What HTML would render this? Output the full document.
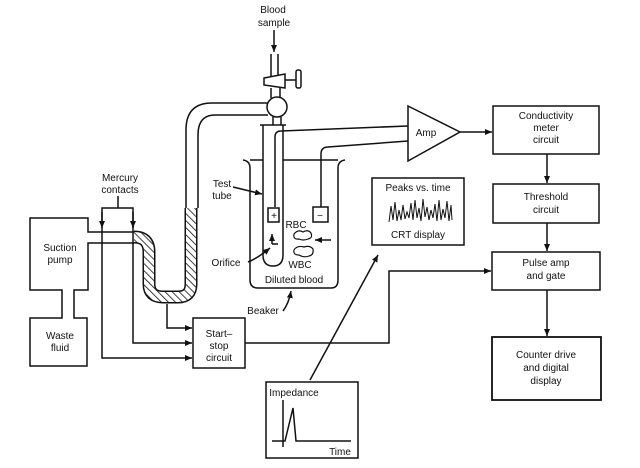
<!DOCTYPE html>
<html><head><meta charset="utf-8"><style>
html,body{margin:0;padding:0;background:#fff;}
svg{display:block;}
text{font-family:"Liberation Sans",sans-serif;font-size:10px;fill:#111;}
</style></head><body>
<svg width="640" height="468" viewBox="0 0 640 468" xmlns="http://www.w3.org/2000/svg">
<defs>
<pattern id="h" width="5" height="5" patternUnits="userSpaceOnUse" patternTransform="rotate(-45)">
<rect width="5" height="5" fill="#fff"/><line x1="0" y1="0" x2="0" y2="5" stroke="#111" stroke-width="1.6"/>
</pattern>
<marker id="a" markerWidth="8" markerHeight="8" refX="7" refY="4" orient="auto" markerUnits="userSpaceOnUse">
<path d="M0,1 L7,4 L0,7 Z" fill="#111"/></marker>
</defs>
<g stroke="#111" stroke-width="1.5" fill="none">
<!-- Blood sample -->
<line x1="274" y1="30" x2="274" y2="52" marker-end="url(#a)"/>
<line x1="271" y1="54" x2="271" y2="77"/><line x1="278" y1="54" x2="278" y2="77"/>
<path d="M264,78 L285,74 L285,88 L264,85 Z" fill="#fff"/>
<line x1="285" y1="80" x2="297" y2="80"/>
<rect x="296" y="70" width="5" height="18" rx="2" fill="#fff"/>
<line x1="271" y1="88" x2="271" y2="98"/><line x1="280" y1="88" x2="280" y2="98"/>
<circle cx="277" cy="107" r="10" fill="#fff"/>
<!-- upper tube -->
<path d="M268,103 L212,103 Q186,103 186,130 L186,208"/>
<path d="M268,115 L215,115 Q198,115 198,135 L198,208"/>
<!-- hatched tube -->
<path d="M134,237 Q149,237 149,252 L149,284 Q149,297 163,297 L178,297 Q191,297 191,284 L191,208" stroke="#111" stroke-width="13"/>
<path d="M134,237 Q149,237 149,252 L149,284 Q149,297 163,297 L178,297 Q191,297 191,284 L191,208" stroke="url(#h)" stroke-width="10"/>
<!-- pump -->
<path d="M134,232 L88,232 L88,218 L30,218 L30,290 L62,290 L62,318 L30,318 L30,366 L87,366 L87,318 L74,318 L74,290 L88,290 L88,243 L134,243"/>
<!-- mercury contacts -->
<line x1="118" y1="196" x2="118" y2="208"/>
<path d="M102,228 L102,208 L133,208 L133,228"/>
<line x1="102" y1="212" x2="102" y2="228" marker-end="url(#a)"/>
<line x1="133" y1="212" x2="133" y2="228" marker-end="url(#a)"/>
<path d="M102,228 L102,358 L192,358" marker-end="url(#a)"/>
<path d="M133,228 L133,343 L192,343" marker-end="url(#a)"/>
<path d="M167,304 L167,328 L192,328" marker-end="url(#a)"/>
<rect x="193" y="318" width="52" height="50"/>
<path d="M245,343 L389,343 L389,271 L491,271" marker-end="url(#a)"/>
<!-- test tube -->
<path d="M260,125 L286,125"/>
<path d="M263,125 L263,255 Q263,266 273,266 Q283,266 283,255 L283,125"/>
<line x1="273" y1="117" x2="273" y2="125"/><line x1="281" y1="117" x2="281" y2="125"/>
<path d="M275,207 L275,137 Q275,131 281,131 L408,126"/>
<path d="M321,207 L321,154 Q321,147 328,147 L408,141"/>
<!-- beaker -->
<path d="M243,160 Q250,161 250,168 L250,280 Q250,288 258,288 L331,288 Q338,288 338,280 L338,168 Q338,161 345,160"/>
<line x1="250" y1="160" x2="263" y2="160"/><line x1="283" y1="160" x2="338" y2="160"/>
<rect x="268" y="208" width="11" height="14" fill="#fff"/>
<rect x="313" y="207" width="15" height="15" fill="#fff"/>
<line x1="331" y1="240" x2="315" y2="240" marker-end="url(#a)"/>
<path d="M272,244 L272,234" marker-end="url(#a)"/><line x1="272" y1="244" x2="278" y2="244"/>
<path d="M294,234 q4,-5 9,-2 q5,-3 8,1 q2,5 -3,6 q-5,2 -9,0 q-6,1 -5,-5 Z" stroke-width="1.2"/>
<path d="M294,250 q3,-5 10,-3 q6,-2 9,2 q1,6 -4,7 q-5,2 -10,-1 q-6,0 -5,-5 Z" stroke-width="1.2"/>
<!-- label arrows -->
<path d="M233,187 L262,194" marker-end="url(#a)"/>
<path d="M248,262 Q258,258 270,248" marker-end="url(#a)"/>
<path d="M283,311 Q289,303 291,291" marker-end="url(#a)"/>
<!-- amp -->
<path d="M408,106 L460,132 L408,161 Z"/>
<line x1="460" y1="132" x2="492" y2="132" marker-end="url(#a)"/>
<rect x="493" y="106" width="106" height="48"/>
<line x1="547" y1="154" x2="547" y2="183" marker-end="url(#a)"/>
<rect x="493" y="184" width="106" height="39"/>
<line x1="547" y1="223" x2="547" y2="251" marker-end="url(#a)"/>
<rect x="492" y="252" width="108" height="38"/>
<line x1="547" y1="290" x2="547" y2="336" marker-end="url(#a)"/>
<rect x="492" y="337" width="109" height="63" stroke-width="1.8"/>
<!-- CRT -->
<rect x="372" y="178" width="92" height="67"/>
<path d="M389,222 L391,206 L393,220 L395,202 L397,221 L399,210 L401,220 L403,205 L405,219 L407,212 L409,218 L411,203 L413,220 L415,200 L417,218 L419,208 L421,221 L423,199 L425,217 L427,207 L429,220 L431,210 L433,218 L435,204 L437,221 L439,200 L441,220 L443,209 L445,218 L447,201 L449,221 L451,205 L452,220" stroke-width="1"/>
<line x1="310" y1="380" x2="378" y2="255" marker-end="url(#a)"/>
<!-- impedance -->
<rect x="266" y="382" width="92" height="76"/>
<line x1="283" y1="400" x2="283" y2="447"/>
<path d="M272,441 L285,441 L293,408 L296,441 L351,441"/>
</g>
<g text-anchor="middle">
<text x="273" y="13">Blood</text><text x="274" y="26">sample</text>
<text x="120" y="181">Mercury</text><text x="120" y="193">contacts</text>
<text x="60" y="251">Suction</text><text x="60" y="263">pump</text>
<text x="60" y="339">Waste</text><text x="60" y="351">fluid</text>
<text x="219" y="337">Start–</text><text x="219" y="349">stop</text><text x="219" y="361">circuit</text>
<text x="222" y="187">Test</text><text x="222" y="199">tube</text>
<text x="296" y="228">RBC</text><text x="300" y="268">WBC</text>
<text x="294" y="283">Diluted blood</text>
<text x="274" y="219" font-size="8">+</text><text x="320" y="219" font-size="9">−</text>
<text x="226" y="266">Orifice</text>
<text x="263" y="314">Beaker</text>
<text x="426" y="136">Amp</text>
<text x="546" y="119">Conductivity</text><text x="546" y="131">meter</text><text x="546" y="143">circuit</text>
<text x="546" y="200">Threshold</text><text x="546" y="213">circuit</text>
<text x="546" y="266">Pulse amp</text><text x="546" y="279">and gate</text>
<text x="546" y="358">Counter drive</text><text x="546" y="371">and digital</text><text x="546" y="384">display</text>
<text x="418" y="191">Peaks vs. time</text>
<text x="418" y="238">CRT display</text>
<text x="294" y="396" font-size="9">Impedance</text>
<text x="340" y="455">Time</text>
</g>
</svg>
</body></html>
